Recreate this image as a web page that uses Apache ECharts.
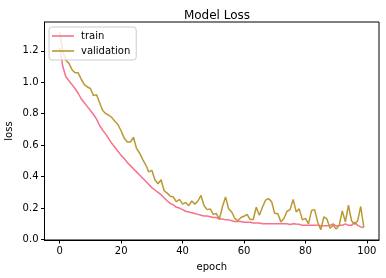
<!DOCTYPE html>
<html><head><meta charset="utf-8">
<script src="https://cdn.jsdelivr.net/npm/echarts@6/dist/echarts.min.js"></script>
<style>html,body{margin:0;padding:0;background:#fff}#c{width:386px;height:278px}</style>
</head><body><div id="c"></div>
<script>
const epochs = Array.from({length: 100}, (_, i) => i);
const trainLoss = [1.22,1.10,1.035,1.01,0.985,0.96,0.93,0.895,0.87,0.845,
0.82,0.795,0.765,0.725,0.695,0.67,0.64,0.61,0.585,0.56,
0.535,0.515,0.49,0.47,0.45,0.43,0.41,0.39,0.37,0.35,
0.33,0.315,0.30,0.285,0.265,0.245,0.23,0.22,0.205,0.20,
0.19,0.18,0.175,0.17,0.165,0.16,0.155,0.15,0.15,0.145,
0.14,0.14,0.13,0.13,0.125,0.125,0.12,0.115,0.115,0.115,
0.11,0.11,0.11,0.105,0.105,0.105,0.10,0.10,0.10,0.10,
0.10,0.10,0.10,0.10,0.10,0.095,0.10,0.098,0.097,0.09,
0.09,0.09,0.09,0.09,0.09,0.088,0.088,0.088,0.09,0.10,
0.085,0.09,0.09,0.10,0.09,0.09,0.11,0.09,0.08,0.077];
const valLoss = [1.32,1.20,1.14,1.12,1.08,1.06,1.06,1.02,0.985,0.97,
0.96,0.915,0.92,0.87,0.82,0.80,0.79,0.775,0.75,0.73,
0.69,0.645,0.62,0.62,0.65,0.58,0.55,0.51,0.475,0.43,
0.44,0.38,0.355,0.38,0.31,0.295,0.275,0.27,0.24,0.255,
0.225,0.235,0.215,0.245,0.225,0.245,0.28,0.215,0.19,0.195,
0.16,0.165,0.13,0.21,0.27,0.195,0.175,0.135,0.12,0.14,
0.148,0.16,0.127,0.127,0.205,0.155,0.205,0.25,0.26,0.24,
0.165,0.165,0.112,0.134,0.18,0.19,0.255,0.176,0.195,0.125,
0.135,0.10,0.185,0.19,0.11,0.062,0.145,0.13,0.072,0.09,
0.066,0.09,0.182,0.112,0.218,0.12,0.097,0.12,0.21,0.078];
const xTicks = [0,20,40,60,80,100];
const yTicks = [0,0.2,0.4,0.6,0.8,1.0,1.2];

const chart = echarts.init(document.getElementById('c'), null, {renderer:'canvas'});
const font = 'DejaVu Sans';
const axisCommon = {
  axisLine:{show:true, onZero:false, lineStyle:{color:'#000', width:1}},
  axisTick:{show:true, inside:false, length:3.5, lineStyle:{color:'#000', width:1}},
  splitLine:{show:false},
  nameMoveOverlap:false,
  nameTextStyle:{fontFamily:font, fontSize:10, color:'#000'}
};
const lineIcon = 'path://M0,0 L22,0 L22,1.6 L0,1.6 Z';
chart.setOption({
  animation:false,
  title:{text:'Model Loss', left:212, top:5, textAlign:'center',
    textStyle:{fontFamily:font, fontSize:12, fontWeight:'normal', color:'#000'}},
  legend:{left:49, top:27, orient:'vertical', itemWidth:22, itemHeight:2, itemGap:5,
    padding:[4,6,4,3], backgroundColor:'rgba(255,255,255,0.8)', borderColor:'#ccc',
    borderWidth:1, borderRadius:3, textStyle:{fontFamily:font, fontSize:10, color:'#000', padding:[0,0,0,2]},
    data:[{name:'train', icon:lineIcon},{name:'validation', icon:lineIcon}]},
  grid:{left:44.5, right:7, top:22, bottom:38, show:true, borderColor:'#000', borderWidth:1,
    containLabel:false, outerBoundsMode:'none'},
  xAxis:Object.assign({}, axisCommon, {type:'value', min:-4.95, max:103.95,
    name:'epoch', nameLocation:'middle', nameGap:22,
    axisTick:Object.assign({}, axisCommon.axisTick, {customValues:xTicks}),
    axisLabel:{customValues:xTicks, fontFamily:font, fontSize:10, color:'#000', margin:6}}),
  yAxis:Object.assign({}, axisCommon, {type:'value', min:-0.003, max:1.383,
    name:'loss', nameLocation:'middle', nameGap:30, nameRotate:90,
    axisTick:Object.assign({}, axisCommon.axisTick, {customValues:yTicks}),
    axisLabel:{customValues:yTicks, fontFamily:font, fontSize:10, color:'#000', margin:6,
      formatter:v=>v.toFixed(1)}}),
  series:[
    {name:'train', type:'line', symbol:'none', lineStyle:{color:'#f77189', width:1.5}, itemStyle:{color:'#f77189'},
      data:epochs.map((e,i)=>[e, trainLoss[i]])},
    {name:'validation', type:'line', symbol:'none', lineStyle:{color:'#bb9832', width:1.5}, itemStyle:{color:'#bb9832'},
      data:epochs.map((e,i)=>[e, valLoss[i]])}
  ]
});
</script></body></html>
